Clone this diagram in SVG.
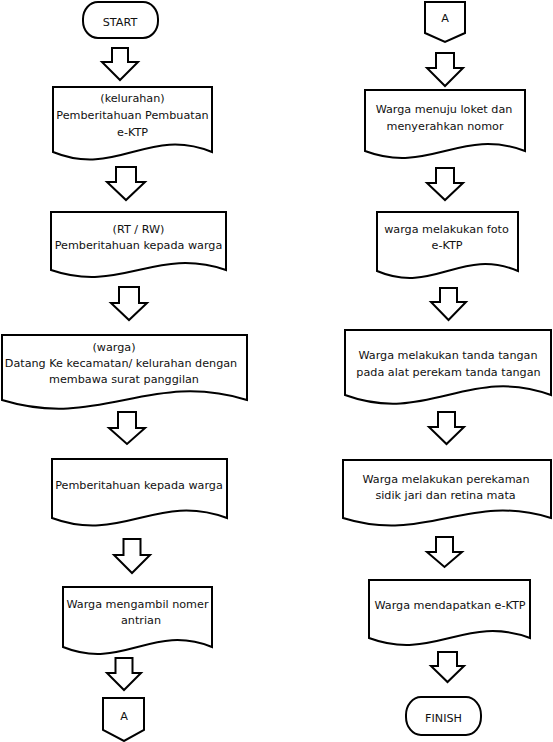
<svg xmlns="http://www.w3.org/2000/svg" width="553" height="742" viewBox="0 0 553 742">
<style>
.s{fill:#fff;stroke:#000;stroke-width:2;stroke-linejoin:miter}
.a{fill:#fff;stroke:#000;stroke-width:2;stroke-linejoin:miter}
text{font-family:"DejaVu Sans",Verdana,sans-serif;font-size:11.2px;fill:#111;text-anchor:middle}
</style>
<rect width="553" height="742" fill="#fff"/>
<g id="start"><rect class="s" x="83" y="2" width="75" height="36" rx="15" ry="17"/><text x="120" y="26">START</text></g>
<g id="d1"><path class="s" d="M53,87 H212 V152 C148.4,126 116.6,178 53,152 Z"/><text x="132.5" y="102">(kelurahan)</text><text x="132.5" y="119">Pemberitahuan Pembuatan</text><text x="132.5" y="136">e-KTP</text></g>
<g id="d2"><path class="s" d="M51,212 H226 V270 C156,246 121,294 51,270 Z"/><text x="138.5" y="233">(RT / RW)</text><text x="138.5" y="249">Pemberitahuan kepada warga</text></g>
<g id="d3"><path class="s" d="M2,335 H247 V400 C149,370 100,430 2,400 Z"/><text x="114" y="351">(warga)</text><text x="121" y="367">Datang Ke kecamatan/ kelurahan dengan</text><text x="124" y="383">membawa surat panggilan</text></g>
<g id="d4"><path class="s" d="M52,459 H227 V518 C157,492 122,544 52,518 Z"/><text x="139" y="489">Pemberitahuan kepada warga</text></g>
<g id="d5"><path class="s" d="M63,587 H212 V647 C152.4,623 122.6,671 63,647 Z"/><text x="137.5" y="608">Warga mengambil nomer</text><text x="141" y="624">antrian</text></g>
<g id="a1"><polygon class="s" points="103,698 144,698 144,730 124,741 103,730"/><text x="124" y="720">A</text></g>
<g id="a2"><polygon class="s" points="425,2 465,2 465,33 445,42 425,33"/><text x="445" y="22">A</text></g>
<g id="r1"><path class="s" d="M365,90 H525 V151 C461,127 429,175 365,151 Z"/><text x="444" y="113">Warga menuju loket dan</text><text x="445" y="130">menyerahkan nomor</text></g>
<g id="r2"><path class="s" d="M377,212 H518 V271 C461.6,247 433.4,295 377,271 Z"/><text x="446.5" y="233">warga melakukan foto</text><text x="447" y="249">e-KTP</text></g>
<g id="r3"><path class="s" d="M345,330 H551 V395 C468.6,365 427.4,425 345,395 Z"/><text x="448" y="359">Warga melakukan tanda tangan</text><text x="448.5" y="376">pada alat perekam tanda tangan</text></g>
<g id="r4"><path class="s" d="M343,460 H551 V518 C467.8,492 426.2,544 343,518 Z"/><text x="446" y="483">Warga melakukan perekaman</text><text x="445.5" y="499">sidik jari dan retina mata</text></g>
<g id="r5"><path class="s" d="M369,580 H530 V638 C465.6,614 433.4,662 369,638 Z"/><text x="450" y="609">Warga mendapatkan e-KTP</text></g>
<g id="finish"><rect class="s" x="406" y="697" width="75" height="38" rx="15" ry="18"/><text x="443.5" y="722">FINISH</text></g>
<g id="connectors">
<polygon class="a" points="112,48 128,48 128,62 138,62 120,80 102,62 112,62"/>
<polygon class="a" points="116,167 136,167 136,182 145,182 126,200 107,182 116,182"/>
<polygon class="a" points="119,287 139,287 139,303 147,303 129,320 111,303 119,303"/>
<polygon class="a" points="118,412 136,412 136,428 145,428 127,444 109,428 118,428"/>
<polygon class="a" points="123.5,539 140.5,539 140.5,555 150,555 132,573 114,555 123.5,555"/>
<polygon class="a" points="115.5,658 132.5,658 132.5,673 141,673 124,690 107,673 115.5,673"/>
<polygon class="a" points="436,53 454,53 454,68 463,68 445,86 427,68 436,68"/>
<polygon class="a" points="436,168 454,168 454,183 463,183 445,200 427,183 436,183"/>
<polygon class="a" points="440,288 457,288 457,302 466,302 448.5,320 431,302 440,302"/>
<polygon class="a" points="438,412 455,412 455,427 464,427 446.5,444 429,427 438,427"/>
<polygon class="a" points="436,537 453,537 453,552 462,552 444.5,567 427,552 436,552"/>
<polygon class="a" points="438,652 457,652 457,666 464,666 447.5,682 431,666 438,666"/>
</g>
</svg>
